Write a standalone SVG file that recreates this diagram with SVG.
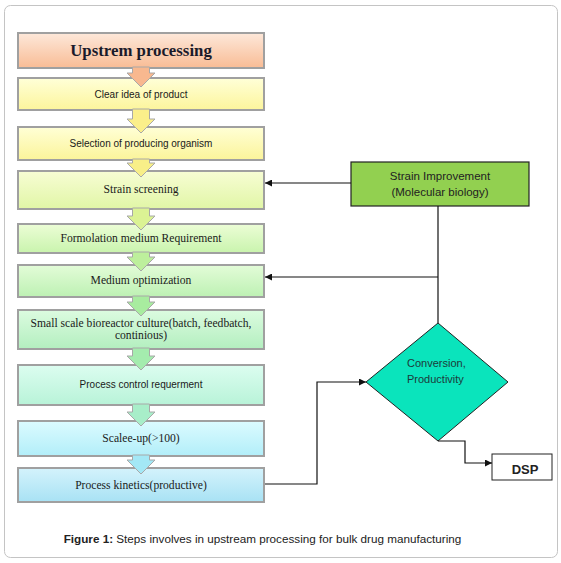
<svg xmlns="http://www.w3.org/2000/svg" width="561" height="563" viewBox="0 0 561 563">
<defs>
<linearGradient id="g0" x1="0" y1="0" x2="0" y2="1"><stop offset="0" stop-color="#fde8da"/><stop offset="1" stop-color="#f9bc95"/></linearGradient>
<linearGradient id="g1" x1="0" y1="0" x2="0" y2="1"><stop offset="0" stop-color="#ffffd8"/><stop offset="1" stop-color="#fcf59c"/></linearGradient>
<linearGradient id="g2" x1="0" y1="0" x2="0" y2="1"><stop offset="0" stop-color="#ffffd6"/><stop offset="1" stop-color="#fbf49a"/></linearGradient>
<linearGradient id="g3" x1="0" y1="0" x2="0" y2="1"><stop offset="0" stop-color="#f7fdd4"/><stop offset="1" stop-color="#e1f6a6"/></linearGradient>
<linearGradient id="g4" x1="0" y1="0" x2="0" y2="1"><stop offset="0" stop-color="#ecfdd6"/><stop offset="1" stop-color="#c9f4ad"/></linearGradient>
<linearGradient id="g5" x1="0" y1="0" x2="0" y2="1"><stop offset="0" stop-color="#e3fcd8"/><stop offset="1" stop-color="#bdf1b3"/></linearGradient>
<linearGradient id="g6" x1="0" y1="0" x2="0" y2="1"><stop offset="0" stop-color="#dcfbe0"/><stop offset="1" stop-color="#b3efbf"/></linearGradient>
<linearGradient id="g7" x1="0" y1="0" x2="0" y2="1"><stop offset="0" stop-color="#dcfdf0"/><stop offset="1" stop-color="#b8f3d8"/></linearGradient>
<linearGradient id="g8" x1="0" y1="0" x2="0" y2="1"><stop offset="0" stop-color="#dcfbff"/><stop offset="1" stop-color="#b2eef9"/></linearGradient>
<linearGradient id="g9" x1="0" y1="0" x2="0" y2="1"><stop offset="0" stop-color="#d4f3fc"/><stop offset="1" stop-color="#a8e2f4"/></linearGradient>
<marker id="ah" viewBox="0 0 10 10" refX="10" refY="5" markerWidth="7" markerHeight="7" markerUnits="userSpaceOnUse" orient="auto"><path d="M0,0 L10,5 L0,10 z" fill="#111"/></marker>
</defs>
<style>
.box{stroke:#a0a0a0;stroke-width:2}
.ser{font-family:"Liberation Serif","Times New Roman",serif;font-size:11.6px;fill:#1a1a1a;text-anchor:middle}
.san{font-family:"Liberation Sans",Arial,sans-serif;font-size:10px;fill:#1a1a1a;text-anchor:middle}
.ln{fill:none;stroke:#111;stroke-width:1.2}
.blk{stroke:#a8a8a8;stroke-width:1}
</style>
<rect x="4.5" y="5.5" width="553" height="552" rx="6" fill="#fff" stroke="#c4c4c4" stroke-width="1"/>

<g id="n0"><rect class="box" x="18" y="33" width="246" height="35" fill="url(#g0)"/><text x="141" y="55.5" style="font-family:'Liberation Serif','Times New Roman',serif;font-size:16.8px;font-weight:bold;fill:#1a1a2a;text-anchor:middle">Upstrem processing</text></g>
<g id="n1"><rect class="box" x="18" y="78" width="246" height="32" fill="url(#g1)"/><text class="san" x="141" y="98">Clear idea of product</text></g>
<g id="n2"><rect class="box" x="18" y="127" width="246" height="33" fill="url(#g2)"/><text class="san" x="141" y="147">Selection of producing organism</text></g>
<g id="n3"><rect class="box" x="18" y="171" width="246" height="38" fill="url(#g3)"/><text class="ser" x="141" y="193">Strain screening</text></g>
<g id="n4"><rect class="box" x="18" y="224" width="246" height="29" fill="url(#g4)"/><text class="ser" x="141" y="242">Formolation medium Requirement</text></g>
<g id="n5"><rect class="box" x="18" y="265" width="246" height="32" fill="url(#g5)"/><text class="ser" x="141" y="284">Medium optimization</text></g>
<g id="n6"><rect class="box" x="18" y="310" width="246" height="39" fill="url(#g6)"/><text class="ser" x="141" y="327">Small scale bioreactor culture(batch, feedbatch,</text><text class="ser" x="141" y="339">continious)</text></g>
<g id="n7"><rect class="box" x="18" y="365" width="246" height="40" fill="url(#g7)"/><text class="san" x="141" y="388">Process control requerment</text></g>
<g id="n8"><rect class="box" x="18" y="421" width="246" height="35" fill="url(#g8)"/><text class="ser" x="141" y="442">Scalee-up(&gt;100)</text></g>
<g id="n9"><rect class="box" x="18" y="468" width="246" height="34" fill="url(#g9)"/><text class="ser" x="141" y="489">Process kinetics(productive)</text></g>

<g id="n10"><rect x="351" y="162" width="178" height="44" fill="#92d050" stroke="#222" stroke-width="1.2"/><text x="440" y="180" style="font-family:'Liberation Sans',Arial,sans-serif;font-size:11.5px;fill:#222;text-anchor:middle">Strain Improvement</text><text x="440" y="196" style="font-family:'Liberation Sans',Arial,sans-serif;font-size:11.5px;fill:#222;text-anchor:middle">(Molecular biology)</text></g>
<g id="n11"><path d="M438,323 L508,382 L438,441 L366,382 Z" fill="#0ae4bc" stroke="#222" stroke-width="1"/><text x="407" y="367" style="font-family:'Liberation Sans',Arial,sans-serif;font-size:11px;fill:#1d3a3a">Conversion,</text><text x="407" y="383" style="font-family:'Liberation Sans',Arial,sans-serif;font-size:11px;fill:#1d3a3a">Productivity</text></g>
<g id="n12"><rect x="492" y="454" width="60" height="26" fill="#fff" stroke="#222" stroke-width="1"/><text x="525" y="474" style="font-family:'Liberation Sans',Arial,sans-serif;font-size:13px;font-weight:bold;fill:#222;text-anchor:middle">DSP</text></g>

<g id="connectors">
<path class="blk" fill="#f8b88f" d="M132.5,67 h17 v6 h5.5 l-14,14 l-14,-14 h5.5 z"/>
<path class="blk" fill="#fbef8a" d="M132.5,109 h17 v10 h5.5 l-14,14 l-14,-14 h5.5 z"/>
<path class="blk" fill="#f8ef88" d="M132.5,159 h17 v4 h5.5 l-14,14 l-14,-14 h5.5 z"/>
<path class="blk" fill="#dbf394" d="M132.5,208 h17 v8 h5.5 l-14,14 l-14,-14 h5.5 z"/>
<path class="blk" fill="#bdef9c" d="M132.5,252 h17 v5 h5.5 l-14,14 l-14,-14 h5.5 z"/>
<path class="blk" fill="#a8ec9f" d="M132.5,296 h17 v6 h5.5 l-14,14 l-14,-14 h5.5 z"/>
<path class="blk" fill="#a4ecae" d="M132.5,348 h17 v8 h5.5 l-14,14 l-14,-14 h5.5 z"/>
<path class="blk" fill="#a8eec9" d="M132.5,404 h17 v8 h5.5 l-14,14 l-14,-14 h5.5 z"/>
<path class="blk" fill="#a3e8f6" d="M132.5,455 h17 v5 h5.5 l-14,14 l-14,-14 h5.5 z"/>
<path class="ln" d="M351,183 H265" marker-end="url(#ah)"/>
<path class="ln" d="M438,206 V323"/>
<path class="ln" d="M438,277 H265" marker-end="url(#ah)"/>
<path class="ln" d="M265,484 H317 V382 H366" marker-end="url(#ah)"/>
<path class="ln" d="M438,441 H465 V463 H492" marker-end="url(#ah)"/>
</g>

<text x="262.5" y="543" style="font-family:'Liberation Sans',Arial,sans-serif;font-size:11.7px;fill:#222;text-anchor:middle"><tspan font-weight="bold">Figure 1:</tspan> Steps involves in upstream processing for bulk drug manufacturing</text>
</svg>
